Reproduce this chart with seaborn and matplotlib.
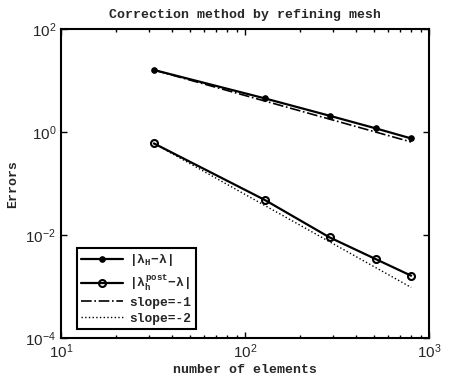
import matplotlib
matplotlib.use("Agg")
import matplotlib.pyplot as plt
import seaborn as sns
import numpy as np
import pandas as pd
from matplotlib.ticker import LogLocator, NullFormatter, NullLocator

sns.set_style("ticks")
plt.rcParams['font.family'] = ['Liberation Sans', 'DejaVu Sans']
plt.rcParams['mathtext.fontset'] = 'custom'
plt.rcParams['mathtext.rm'] = 'Liberation Mono:bold'
plt.rcParams['mathtext.it'] = 'Liberation Mono:bold'
plt.rcParams['mathtext.bf'] = 'Liberation Mono:bold'

# data
elements = [32, 128, 288, 512, 800]
err_H = [16.0, 4.5, 2.07, 1.18, 0.75]
err_post = [0.60, 0.048, 0.0090, 0.00342, 0.00162]
slope1 = [16.0, 4.0, 1.78, 1.0, 0.64]
slope2 = [0.60, 0.0375, 0.00741, 0.00234, 0.00096]

labels = [r'$|\lambda_{\mathrm{H}}\!-\!\lambda|$',
          r'$|\lambda_{\mathrm{h}}^{\mathrm{post}}\!-\!\lambda|$',
          'slope=-1', 'slope=-2']

fig = plt.figure(figsize=(4.74, 3.8), dpi=100)
ax = fig.add_axes([61/474, 1-338/380, (429-61)/474, (338-29)/380])

sns.lineplot(x=elements, y=err_H, ax=ax, color='black', lw=1.6, marker='o',
             markersize=4, markerfacecolor='black', markeredgecolor='black',
             label=labels[0])
sns.lineplot(x=elements, y=err_post, ax=ax, color='black', lw=1.6, marker='o',
             markersize=5, markerfacecolor='none', markeredgecolor='black',
             markeredgewidth=1.5, label=labels[1])
sns.lineplot(x=elements, y=slope1, ax=ax, color='black', lw=1.2, linestyle='-.',
             label=labels[2])
sns.lineplot(x=elements, y=slope2, ax=ax, color='black', lw=1.0, linestyle=':',
             label=labels[3])

ax.set_xscale('log')
ax.set_yscale('log')
ax.set_xlim(10, 1000)
ax.set_ylim(1e-4, 1e2)
ax.set_yticks([1e-4, 1e-2, 1e0, 1e2])
ax.yaxis.set_minor_locator(NullLocator())
ax.xaxis.set_minor_locator(LogLocator(base=10, subs=np.arange(2, 10)))
ax.xaxis.set_minor_formatter(NullFormatter())
ax.tick_params(which='both', direction='in', top=True, right=True, labelsize=11,
               width=1.0, color='black')
ax.tick_params(which='major', length=4)
ax.tick_params(which='minor', length=2.5)
for s in ax.spines.values():
    s.set_linewidth(1.5)
    s.set_color('black')

mono = {'family': 'Liberation Mono', 'weight': 'bold', 'size': 9.5}
ax.set_title('Correction method by refining mesh', fontdict=mono, pad=8)
ax.set_xlabel('number of elements', fontdict=mono, labelpad=2)
ax.set_ylabel('Errors', fontdict=mono)
ax.yaxis.set_label_coords(-0.115, 0.5)

leg = ax.legend(loc='lower left', bbox_to_anchor=(0.043, 0.029), frameon=True,
                fancybox=False, framealpha=1, edgecolor='black',
                prop={'family': 'Liberation Mono', 'weight': 'bold', 'size': 9.3},
                handlelength=3.2, handletextpad=0.5, borderpad=0.35,
                labelspacing=0.3, borderaxespad=0)
leg.get_frame().set_linewidth(1.5)

fig.savefig('out.png', dpi=100, facecolor='white')
